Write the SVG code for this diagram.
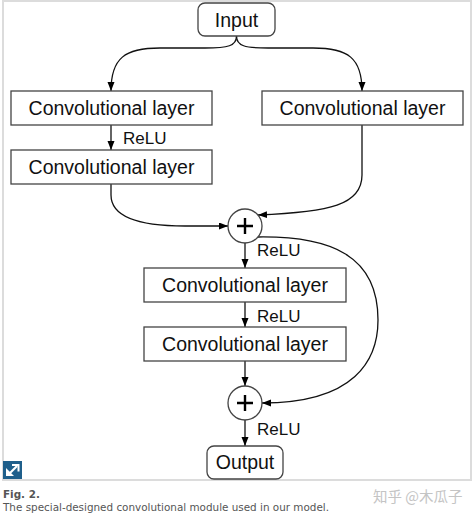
<svg xmlns="http://www.w3.org/2000/svg" width="474" height="516" viewBox="0 0 474 516">
<defs>
<marker id="ah" markerUnits="userSpaceOnUse" markerWidth="10" markerHeight="8" refX="9" refY="3.5" orient="auto">
<path d="M0,0 L9,3.5 L0,7 Z" fill="#000"/>
</marker>
</defs>
<style>
.box{fill:#fff;stroke:#444;stroke-width:1.3}
.lbl{font-family:"Liberation Sans",Arial,sans-serif;font-size:19.5px;fill:#111;text-anchor:middle}
.relu{font-family:"Liberation Sans",Arial,sans-serif;font-size:17px;fill:#111}
.edge{fill:none;stroke:#111;stroke-width:1.3;marker-end:url(#ah)}
.plus{stroke:#000;stroke-width:2.4}
.cap{font-family:"DejaVu Sans",Verdana,sans-serif;font-size:10.4px;fill:#555}
</style>
<rect x="0" y="0" width="474" height="516" fill="#fff"/>
<rect x="3" y="1" width="468" height="479" fill="none" stroke="#dcdcdc" stroke-width="2"/>

<g id="connectors">
<path class="edge" d="M236.5,36 C236.5,46 228,48 205,48 L160,48 C125,48 111,58 111,91"/>
<path class="edge" d="M236.5,36 C236.5,46 245,48 268,48 L313,48 C348,48 362,58 362,91"/>
<path class="edge" d="M111,125 L111,150"/>
<path class="edge" d="M111,184 L111,195 C111,218 140,226 185,226 L228,226"/>
<path class="edge" d="M362,125 L362,175 C362,205 330,212 258,215"/>
<path class="edge" d="M245,243 L245,268"/>
<path class="edge" d="M245,302 L245,327"/>
<path class="edge" d="M245,361 L245,386"/>
<path class="edge" d="M245,420 L245,446"/>
<path class="edge" d="M258,237 C330,236 378,255 378,320 C378,360 355,403 262,403"/>
<text class="relu" x="123" y="144">ReLU</text>
<text class="relu" x="257" y="256">ReLU</text>
<text class="relu" x="257" y="322">ReLU</text>
<text class="relu" x="257" y="435">ReLU</text>
</g>

<g id="input">
<rect class="box" x="198" y="3" width="77" height="33" rx="7"/>
<text class="lbl" x="236.5" y="26.5">Input</text>
</g>
<g id="conv-left-1">
<rect class="box" x="11" y="91" width="201" height="34"/>
<text class="lbl" x="111.5" y="115">Convolutional layer</text>
</g>
<g id="conv-right">
<rect class="box" x="262" y="91" width="201" height="34"/>
<text class="lbl" x="362.5" y="115">Convolutional layer</text>
</g>
<g id="conv-left-2">
<rect class="box" x="11" y="150" width="201" height="34"/>
<text class="lbl" x="111.5" y="174">Convolutional layer</text>
</g>
<g id="add-1">
<circle class="box" cx="245" cy="226" r="17"/>
<path class="plus" d="M237,226 H253 M245,218 V234"/>
</g>
<g id="conv-3">
<rect class="box" x="144" y="268" width="202" height="34"/>
<text class="lbl" x="245" y="292">Convolutional layer</text>
</g>
<g id="conv-4">
<rect class="box" x="144" y="327" width="202" height="34"/>
<text class="lbl" x="245" y="351">Convolutional layer</text>
</g>
<g id="add-2">
<circle class="box" cx="245" cy="403" r="17"/>
<path class="plus" d="M237,403 H253 M245,395 V411"/>
</g>
<g id="output">
<rect class="box" x="207" y="446" width="76" height="33" rx="7"/>
<text class="lbl" x="245" y="469">Output</text>
</g>

<g id="icon">
<rect x="3" y="461" width="19" height="18" fill="#1f5f8b"/>
<path d="M9,474 L17,466" stroke="#fff" stroke-width="2.2" fill="none"/>
<path d="M6,476 L6,468 L14,476 Z" fill="#fff"/>
<path d="M12,465 L18.5,465 L18.5,471.5" stroke="#fff" stroke-width="2" fill="none"/>
</g>

<text class="cap" x="3" y="498" font-weight="bold" fill="#444">Fig. 2.</text>
<text class="cap" x="3" y="511">The special-designed convolutional module used in our model.</text>
<text x="373" y="502" font-family="'Noto Sans CJK SC',sans-serif" font-size="14.5" fill="#c4c4c4">知乎 @木瓜子</text>
</svg>
